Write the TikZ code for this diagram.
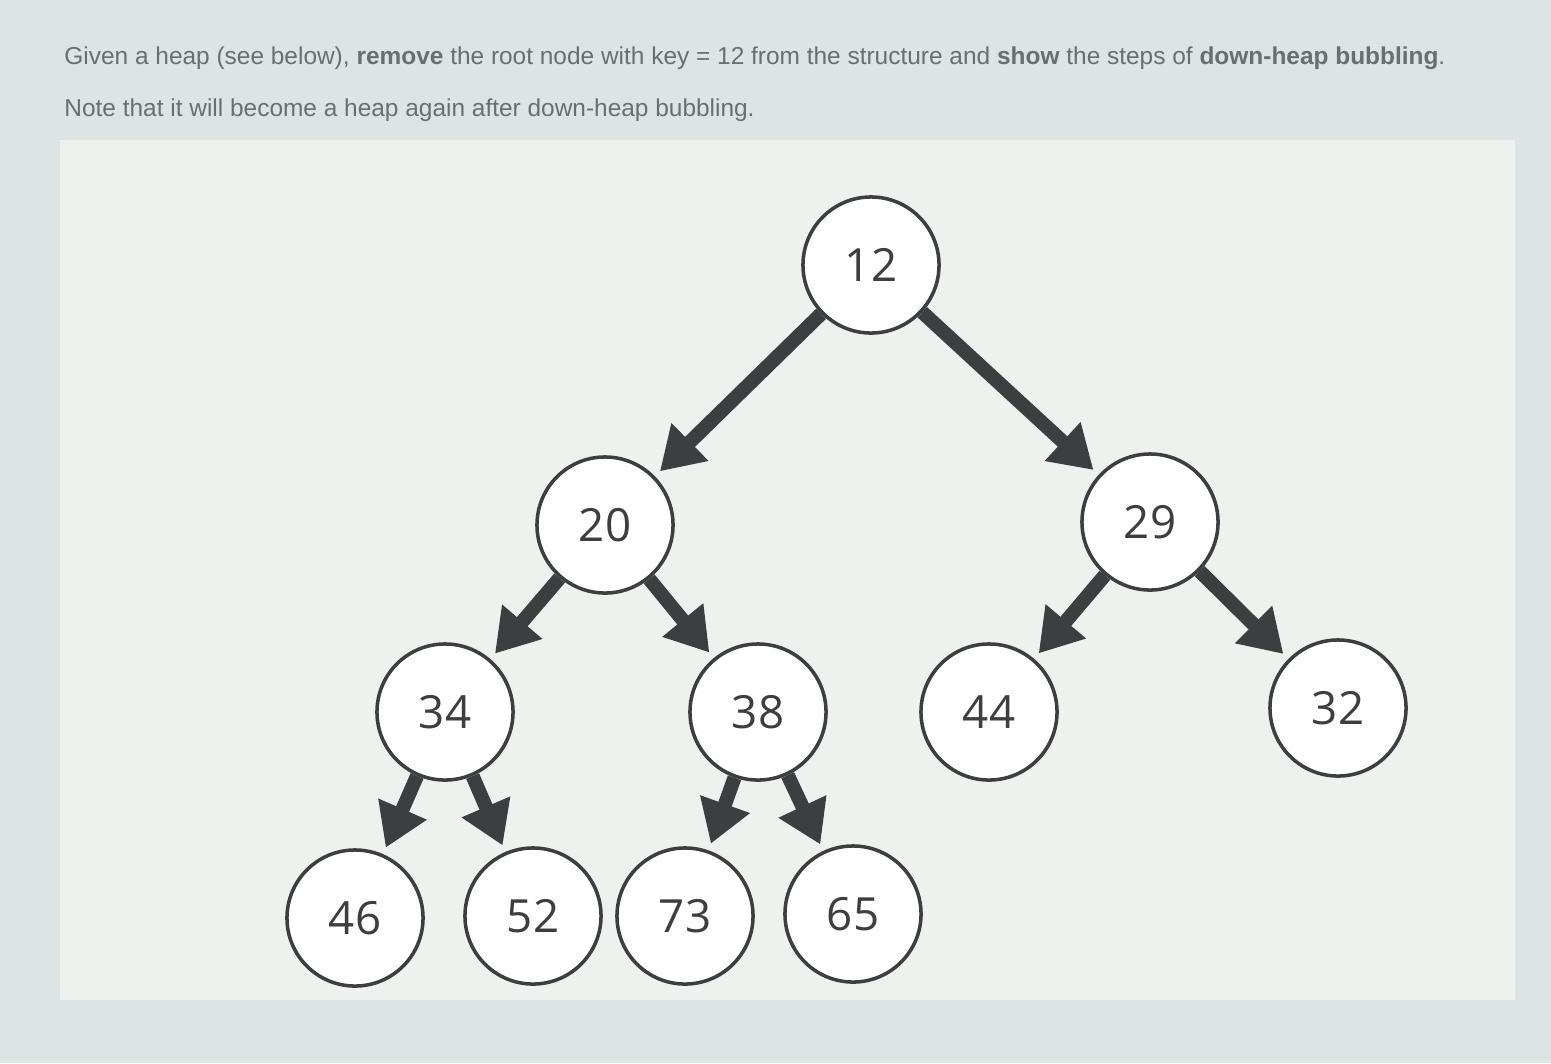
\documentclass[tikz,border=0pt]{standalone}
\usepackage{fontspec}
\setmainfont{Liberation Sans}
\newfontfamily\numfont{Open Sans}
\usetikzlibrary{arrows.meta}
\definecolor{bgc}{HTML}{DCE5E4}
\definecolor{panel}{HTML}{EEF1EE}
\definecolor{txt}{HTML}{6A6E70}
\definecolor{arr}{HTML}{3C3E40}
\tikzset{
 hnode/.style={circle,draw=arr,line width=1pt,fill=white,minimum size=1.36cm,inner sep=0pt,font=\numfont\fontsize{13}{15}\selectfont,text=arr,text height=1.8ex,text depth=0pt},
 harrow/.style={draw=arr,line width=4pt,-{Triangle[length=0.42cm,width=0.5cm]},shorten >=2pt}
}
\begin{document}
\begin{tikzpicture}[x=0.01cm,y=-0.01cm]
\useasboundingbox (0,0) rectangle (1551,1063);
\fill[bgc] (0,0) rectangle (1551,1063);
\fill[panel] (60,140) rectangle (1515,1000);
\node[anchor=west,text=txt,font=\fontsize{6.95}{8}\selectfont] (t1) at (52,58) {Given a heap (see below), \textbf{remove} the root node with key = 12 from the structure and \textbf{show} the steps of \textbf{down-heap bubbling}.};
\node[anchor=west,text=txt,font=\fontsize{6.95}{8}\selectfont] (t2) at (52,110) {Note that it will become a heap again after down-heap bubbling.};
\node[hnode] (n12) at (871,265) {12};
\node[hnode] (n20) at (605,525) {20};
\node[hnode] (n29) at (1150,522) {29};
\node[hnode] (n34) at (445,712) {34};
\node[hnode] (n38) at (758,712) {38};
\node[hnode] (n44) at (989,712) {44};
\node[hnode] (n32) at (1338,708) {32};
\node[hnode] (n46) at (355,918) {46};
\node[hnode] (n52) at (533,916) {52};
\node[hnode] (n73) at (685,916) {73};
\node[hnode] (n65) at (853,914) {65};
\foreach \a/\b in {n12/n20,n12/n29,n20/n34,n20/n38,n29/n44,n29/n32,n34/n46,n34/n52,n38/n73,n38/n65}
  \draw[harrow] (\a) -- (\b);
\end{tikzpicture}
\end{document}
